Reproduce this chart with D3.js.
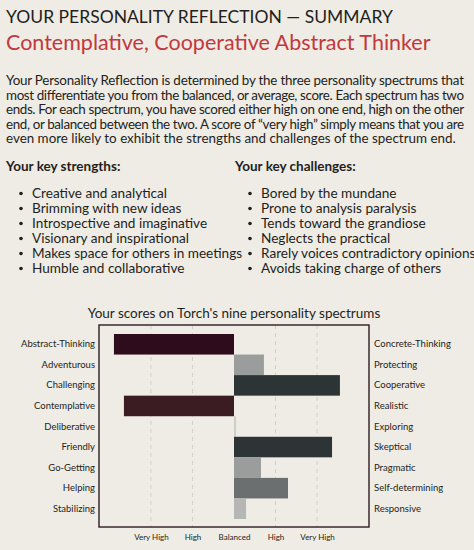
<!DOCTYPE html>
<html>
<head>
<meta charset="utf-8">
<script src="https://cdn.jsdelivr.net/npm/d3@7"></script>
<style>
  body { margin: 0; background: #efebe5; }
  svg { display: block; font-family: Lato, "Open Sans", sans-serif; }
</style>
</head>
<body>
<svg id="chart" width="474" height="550"></svg>
<script>
// spectrum ends, left and right
const leftEnds = ["Abstract-Thinking", "Adventurous", "Challenging", "Contemplative", "Deliberative",
    "Friendly", "Go-Getting", "Helping", "Stabilizing"]
const rightEnds = ["Concrete-Thinking", "Protecting", "Cooperative", "Realistic", "Exploring",
    "Skeptical", "Pragmatic", "Self-determining", "Responsive"]
// negative = toward left end, positive = toward right end (1 = High, 2 = Very High)
const scores = [-2.89, 0.72, 2.55, -2.65, 0.05, 2.36, 0.65, 1.30, 0.29]
const barColors = ["#2e0c1c", "#9b9c9c", "#2c3435", "#3a1c22", "#cfcdca", "#2c3435", "#9b9c9c", "#6b6f6f", "#b6b6b6"]
const tickValues = [-2, -1, 0, 1, 2]
const tickLabels = ["Very High", "High", "Balanced", "High", "Very High"]

const strengths = ["Creative and analytical", "Brimming with new ideas", "Introspective and imaginative",
    "Visionary and inspirational", "Makes space for others in meetings", "Humble and collaborative"]
const challenges = ["Bored by the mundane", "Prone to analysis paralysis", "Tends toward the grandiose",
    "Neglects the practical", "Rarely voices contradictory opinions", "Avoids taking charge of others"]
const paragraph = [
    "Your Personality Reflection is determined by the three personality spectrums that",
    "most differentiate you from the balanced, or average, score. Each spectrum has two",
    "ends. For each spectrum, you have scored either high on one end, high on the other",
    "end, or balanced between the two. A score of \u201cvery high\u201d simply means that you are",
    "even more likely to exhibit the strengths and challenges of the spectrum end.",
]

let svg = d3.select("#chart")
let ink = "#231f20"

svg.append("text").attr("x", 6).attr("y", 23)
    .attr("font-size", 17.5).attr("fill", ink)
    .text("YOUR PERSONALITY REFLECTION \u2014 SUMMARY")
svg.append("text").attr("x", 6).attr("y", 50)
    .attr("font-size", 21.5).attr("fill", "#c1393c")
    .text("Contemplative, Cooperative Abstract Thinker")

svg.append("g").selectAll("text")
    .data(paragraph)
    .join("text")
        .attr("x", 6)
        .attr("y", (d, i) => 85 + i * 14.5)
        .attr("font-size", 13.4)
        .attr("fill", ink)
        .attr("textLength", (d, i) => i == 4 ? null : 458)
        .text(d => d)

function list(x, title, items) {
    let g = svg.append("g")
    g.append("text").attr("x", x).attr("y", 171)
        .attr("font-size", 13.5).attr("font-weight", "bold").attr("fill", ink)
        .text(title)
    let row = g.selectAll("g.item").data(items).join("g")
        .attr("transform", (d, i) => `translate(0,${198 + i * 15})`)
    row.append("circle").attr("cx", x + 15).attr("cy", -4.5).attr("r", 1.8).attr("fill", ink)
    row.append("text").attr("x", x + 26).attr("font-size", 13.6).attr("fill", ink).text(d => d)
}
list(6, "Your key strengths:", strengths)
list(235, "Your key challenges:", challenges)

// chart
let x = d3.scaleLinear().domain([-3.25, 3.25]).range([99, 369])
let y = d3.scaleBand().domain(leftEnds).range([334, 519]).padding(0)

svg.append("text").attr("x", 234).attr("y", 318)
    .attr("text-anchor", "middle").attr("font-size", 13.5).attr("fill", ink)
    .text("Your scores on Torch's nine personality spectrums")

svg.append("g").selectAll("line")
    .data(tickValues.filter(d => d != 0))
    .join("line")
        .attr("x1", d => x(d)).attr("x2", d => x(d))
        .attr("y1", 325).attr("y2", 527)
        .attr("stroke", "#d2cdc7").attr("stroke-dasharray", "4,4")

svg.append("g").selectAll("rect")
    .data(scores)
    .join("rect")
        .attr("x", d => x(Math.min(0, d)))
        .attr("width", d => Math.abs(x(d) - x(0)))
        .attr("y", (d, i) => y(leftEnds[i]))
        .attr("height", y.bandwidth())
        .attr("fill", (d, i) => barColors[i])

svg.append("rect").attr("x", 99).attr("y", 325).attr("width", 270).attr("height", 202)
    .attr("fill", "none").attr("stroke", "#3a2a2e").attr("stroke-width", 1.5)

let left = svg.append("g").attr("transform", "translate(95,0)")
    .call(d3.axisLeft(y).tickSize(0).tickPadding(0))
let right = svg.append("g").attr("transform", "translate(374,0)")
    .call(d3.axisRight(y).tickSize(0).tickPadding(0).tickFormat((d, i) => rightEnds[i]))
for (let a of [left, right]) {
    a.select(".domain").remove()
    a.selectAll("text").attr("font-size", 9.5).attr("fill", ink).attr("font-family", "Lato, sans-serif")
}

let bottom = svg.append("g").attr("transform", "translate(0,527)")
    .call(d3.axisBottom(x).tickValues(tickValues).tickSize(0).tickPadding(7)
        .tickFormat((d, i) => tickLabels[i]))
bottom.select(".domain").remove()
bottom.selectAll("text").attr("font-size", 8).attr("fill", ink).attr("font-family", "Lato, sans-serif")
</script>
</body>
</html>
